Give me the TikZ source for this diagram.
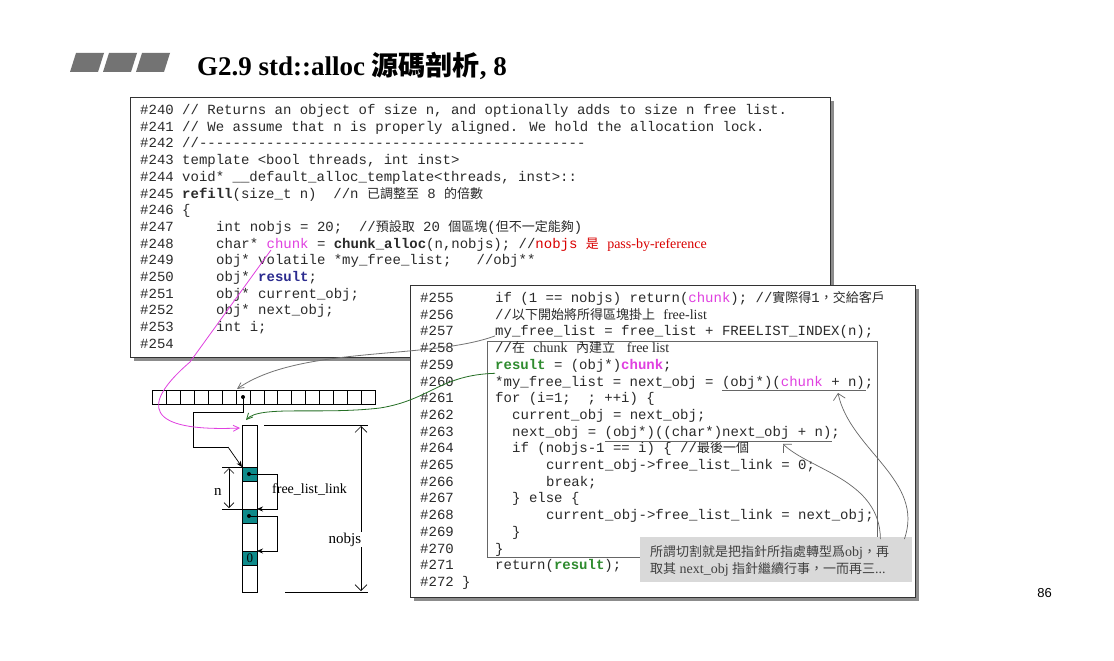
\documentclass[tikz,border=0pt]{standalone}
\usepackage{fontspec}
\setmainfont{Liberation Serif}
\setsansfont{Liberation Sans}
\newfontfamily\cd{Liberation Mono}[Ligatures=TeXOff]
\newfontfamily\cjk{Noto Sans CJK TC}
\usetikzlibrary{arrows.meta}
\definecolor{codec}{HTML}{2A2A2A}
\definecolor{mag}{HTML}{E040E0}
\definecolor{grn}{HTML}{2E8B2E}
\definecolor{blu}{HTML}{2B2B8F}
\definecolor{teal2}{HTML}{0E8A8A}
\newcommand{\cj}[1]{{\cjk\fontsize{13pt}{13pt}\selectfont #1}}
\newcommand{\sr}[1]{{\rmfamily\fontsize{14pt}{14pt}\selectfont #1}}
\newcommand{\mg}[1]{\textcolor{mag}{#1}}
\newcommand{\CL}[4]{\node[codeline] (#1) at (#2,#3) {#4};}
\begin{document}
\begin{tikzpicture}[x=1pt,y=-1pt,
  codeline/.style={anchor=base west,inner sep=0pt,text=codec,font=\cd\fontsize{14pt}{14pt}\selectfont},
  codebox/.style={draw=black!80,line width=1pt,fill=white},
  shadowbox/.style={fill=black!45,draw=none},
  cell/.style={draw,line width=0.7pt},
  arr/.style={-{Stealth[length=6pt,width=5pt]},line width=0.7pt},
  curvearr/.style={-{Straight Barb[length=6pt,width=6pt]},line width=0.8pt}]
\useasboundingbox (0,0) rectangle (1114,661);
\fill[white] (0,0) rectangle (1114,661);
% title
\foreach \i in {0,1,2}{\fill[black!55] (76+\i*33,53) -- (104+\i*33,53) -- (98+\i*33,72) -- (70+\i*33,72) -- cycle;}
\node[anchor=base west,inner sep=0pt,font=\bfseries\fontsize{27pt}{27pt}\selectfont] (title) at (197,76) {G2.9 std::alloc {\cjk\bfseries 源碼剖析}, 8};
% box 1
\fill[shadowbox] (134,101) rectangle (834,361);
\node[codebox,minimum width=700pt,minimum height=260pt,anchor=north west,inner sep=0pt] (box1) at (130,97) {};
\def\ys{16.7}
\foreach \n [count=\k from 0] in {240,...,254}{\node[codeline] (n\n) at (140,114.5+\k*\ys) {\#\n};}
\CL{c240}{182}{114.5}{// Returns an object of size n, and optionally adds to size n free list.}
\CL{c241}{182}{131.2}{// We assume that n is properly aligned. We hold the allocation lock.}
\CL{c242}{182}{147.9}{//----------------------------------------------}
\CL{c243}{182}{164.6}{template <bool threads, int inst>}
\CL{c244}{182}{181.3}{void* \_\_default\_alloc\_template<threads, inst>::}
\CL{c245}{182}{198.0}{\textbf{refill}(size\_t n) ~//n \cj{已調整至} 8 \cj{的倍數}}
\CL{c246}{182}{214.7}{\{}
\CL{c247}{216}{231.4}{int nobjs = 20; ~//\cj{預設取} 20 \cj{個區塊}(\cj{但不一定能夠})}
\CL{c248}{216}{248.1}{char* \mg{chunk} = \textbf{chunk\_alloc}(n,nobjs); //\textcolor{red!85!black}{nobjs \cj{是} \sr{pass-by-reference}}}
\CL{c249}{216}{264.8}{obj* volatile *my\_free\_list; ~~//obj**}
\CL{c250}{216}{281.5}{obj* \textcolor{blu}{\textbf{result}};}
\CL{c251}{216}{298.2}{obj* current\_obj;}
\CL{c252}{216}{314.9}{obj* next\_obj;}
\CL{c253}{216}{331.6}{int i;}
% box 2
\fill[shadowbox] (414,289) rectangle (919,601);
\node[codebox,minimum width=505pt,minimum height=312pt,anchor=north west,inner sep=0pt] (box2) at (410,285) {};
\draw[black!60,line width=0.8pt] (487,341) rectangle (877,557);
\foreach \n [count=\k from 0] in {255,...,272}{\node[codeline] (n\n) at (420,302.5+\k*\ys) {\#\n};}
\CL{c255}{495}{302.5}{if (1 == nobjs) return(\mg{chunk}); //\cj{實際得}1\cj{，交給客戶}}
\CL{c256}{495}{319.2}{//\cj{以下開始將所得區塊掛上} \sr{free-list}}
\CL{c257}{495}{335.9}{my\_free\_list = free\_list + FREELIST\_INDEX(n);}
\CL{c258}{495}{352.6}{//\cj{在} \sr{chunk} \cj{內建立} \sr{~free list}}
\CL{c259}{495}{369.3}{\textcolor{grn}{\textbf{result}} = (obj*)\mg{\textbf{chunk}};}
\CL{c260}{495}{386.0}{*my\_free\_list = next\_obj = (obj*)(\mg{chunk} + n);}
\CL{c261}{495}{402.7}{for (i=1; ~; ++i) \{}
\CL{c262}{512}{419.4}{current\_obj = next\_obj;}
\CL{c263}{512}{436.1}{next\_obj = (obj*)((char*)next\_obj + n);}
\CL{c264}{512}{452.8}{if (nobjs-1 == i) \{ //\cj{最後一個}}
\CL{c265}{546}{469.5}{current\_obj->free\_list\_link = 0;}
\CL{c266}{546}{486.2}{break;}
\CL{c267}{512}{502.9}{\} else \{}
\CL{c268}{546}{519.6}{current\_obj->free\_list\_link = next\_obj;}
\CL{c269}{512}{536.3}{\}}
\CL{c270}{495}{553.0}{\}}
\CL{c271}{495}{569.7}{return(\textcolor{grn}{\textbf{result}});}
\CL{c272}{462}{586.4}{\}}
% underlines
\draw[black!60,line width=0.6pt] (722,390) -- (866,390);
\draw[black!60,line width=0.6pt] (605,441) -- (832,441);
% note
\node[fill=black!15,minimum width=272pt,minimum height=45pt,anchor=north west,inner sep=0pt] (note) at (640,537) {};
\node[anchor=base west,inner sep=0pt,text=black!75,font=\rmfamily\fontsize{14pt}{14pt}\selectfont] (note1) at (650,556) {\cj{所謂切割就是把指針所指處轉型爲}obj\cj{，再}};
\node[anchor=base west,inner sep=0pt,text=black!75,font=\rmfamily\fontsize{14pt}{14pt}\selectfont] (note2) at (650,573) {\cj{取其} next\_obj \cj{指針繼續行事，一而再三}...};
\coordinate (u1) at (838,393);
\coordinate (u2) at (783,444);
\draw[black!60,line width=0.7pt,-{Straight Barb[length=6pt]}] (note.north east) ++(-8,2) .. controls (925,480) and (850,450) .. (u1);
\draw[black!60,line width=0.7pt,-{Straight Barb[length=6pt]}] (note.north east) ++(-32,2) .. controls (880,480) and (810,470) .. (u2);
% left diagram: array
\foreach \i in {0,...,15}{\node[cell,minimum width=13.94pt,minimum height=14pt,inner sep=0pt,anchor=north west] (a\i) at (152+\i*13.94,390) {};}
\coordinate (dotA) at (243,397);
\fill (dotA) circle (2pt);
% column
\node[cell,minimum width=15pt,minimum height=167pt,inner sep=0pt,anchor=north west] (col) at (242,425) {};
\node[cell,fill=teal2,minimum width=15pt,minimum height=14pt,inner sep=0pt,anchor=north west] (t1) at (242,467) {};
\node[cell,fill=teal2,minimum width=15pt,minimum height=14pt,inner sep=0pt,anchor=north west] (t2) at (242,509) {};
\node[cell,fill=teal2,minimum width=15pt,minimum height=14pt,inner sep=0pt,anchor=north west,font=\rmfamily\fontsize{13pt}{13pt}\selectfont] (t3) at (242,551) {0};
\fill (249,474) circle (2pt);
\fill (249,516) circle (2pt);
\draw[line width=0.7pt] (dotA) -- (243,412) -- (193,412) -- (193,447) -- (228,447);
\draw[arr] (228,447) -- (t1.north west);
\draw[arr] (249,474) -- (277,474) -- (277,509) -- (257,509);
\draw[arr] (249,516) -- (277,516) -- (277,551) -- (257,551);
\node[anchor=base west,inner sep=0pt,font=\rmfamily\fontsize{14pt}{14pt}\selectfont] (fll) at (272,493) {free\_list\_link};
% n dimension
\draw[line width=0.6pt] (222,467) -- (242,467) (222,509) -- (242,509);
\draw[line width=0.6pt,{Straight Barb[length=5pt]}-{Straight Barb[length=5pt]}] (229,468) -- (229,508);
\node[anchor=base west,inner sep=0pt,font=\rmfamily\fontsize{15pt}{15pt}\selectfont] (nlab) at (214,495) {n};
% nobjs dimension
\draw[line width=0.6pt] (264,425) -- (368,425) (285,592) -- (368,592);
\draw[line width=0.6pt,{Straight Barb[length=6pt]}-{Straight Barb[length=6pt]}] (361,426) -- (361,591);
\node[anchor=base west,fill=white,inner sep=0.5pt,font=\rmfamily\fontsize{15pt}{15pt}\selectfont] (nobjslab) at (328,543) {nobjs};
% curves
\coordinate (magstart) at (271,250);
\draw[mag,line width=0.8pt,curvearr] (magstart) -- (190,362) .. controls (140,405) and (145,432) .. (240,428);
\draw[black!55,line width=0.8pt,curvearr] (c257.base west) .. controls (430,360) and (300,345) .. (237,389);
\draw[grn!80!black,line width=0.8pt,curvearr] ([yshift=-4pt]c259.base west) .. controls (440,375) and (430,400) .. (380,408) .. controls (320,415) and (260,405) .. (246,420);
\node[anchor=base east,inner sep=0pt,font=\sffamily\fontsize{13pt}{13pt}\selectfont] (pg) at (1052,597) {86};
\end{tikzpicture}
\end{document}
